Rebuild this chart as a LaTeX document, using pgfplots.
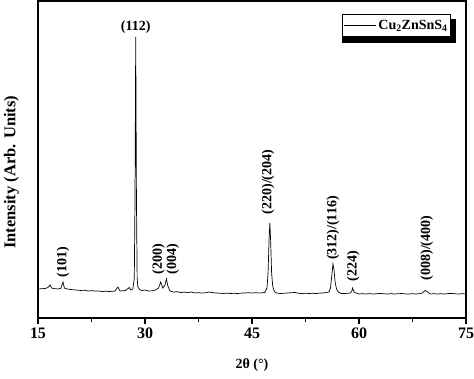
\documentclass[border=0pt]{standalone}
\usepackage{fontspec}
\setmainfont{Liberation Serif}
\usepackage{pgfplots}
\pgfplotsset{compat=1.18}
\begin{document}
\begin{tikzpicture}
\useasboundingbox (-38pt,-60pt) rectangle (436pt,318pt);
\begin{axis}[
  at={(0pt,0pt)}, anchor=south west,
  scale only axis, width=428pt, height=317pt,
  xmin=15, xmax=75, ymin=0, ymax=317,
  xtick={15,30,45,60,75}, minor x tick num=1,
  ytick=\empty,
  tick align=outside, tick pos=bottom,
  major tick length=6pt, minor tick length=3.5pt,
  axis line style={line width=1.5pt},
  every tick/.style={line width=1.2pt, black},
  /pgf/number format/assume math mode=true,
  xticklabel style={font=\fontsize{16}{16}\selectfont\bfseries},
  xlabel={2θ (°)},
  ylabel={Intensity (Arb. Units)},
  xlabel style={font=\fontsize{14}{14}\selectfont\bfseries, at={(axis description cs:0.5,-0.148)}, anchor=center},
  ylabel style={font=\fontsize{16.5}{16.5}\selectfont\bfseries, at={(axis description cs:-0.062,0.46)}, anchor=center},
  legend style={at={(rel axis cs:0.965,0.959)}, anchor=north east,
    draw=black, line width=0.8pt, fill=white,
    nodes={font=\fontsize{14}{14}\selectfont\bfseries}, inner xsep=1pt, inner ysep=3.5pt},
  legend cell align=left,
  legend image code/.code={\draw[line width=0.6pt] (0pt,0pt) -- (32pt,0pt);},
]
\fill[black] ([shift={(-109pt,-29pt)}]rel axis cs:0.965,0.959) rectangle ([shift={(5pt,-5pt)}]rel axis cs:0.965,0.959);
\addplot[black, line width=0.7pt] coordinates {
(15,29) (15.5,29.3) (16.0,29.5) (16.4,30.5) (16.7,33) (16.9,30) (17.3,29.4) (17.8,29) (18.2,29.6) (18.5,36) (18.7,30) (19.0,29.2)
(19.5,28.6) (20,28.2) (20.5,27.9) (21,27.5) (21.5,27.8) (22,27) (22.5,27.3) (23,26.9) (23.5,27.1) (24,26.5) (24.5,26.8) (25,26.5)
(25.8,27) (26.2,31) (26.5,27) (27.0,27.3) (27.3,27.6) (27.8,30.5) (28.0,28) (28.3,29) (28.5,40) (28.6,120) (28.7,281) (28.8,120) (28.9,40)
(29.0,31) (29.3,28) (29.6,27.5) (30,28) (30.5,27) (31.0,27.2) (31.5,28) (31.9,30) (32.2,36) (32.5,30) (32.8,33) (33.0,39) (33.2,32)
(33.5,27) (34,26) (34.5,26.3) (35,25.5) (35.5,25.8) (36,25.5) (36.5,26) (37,25) (37.5,25.3) (38,25) (38.5,25.2) (39,26) (39.5,25.3) (40,25)
(40.5,24.8) (41,24.5) (41.5,24.9) (42,24.5) (42.5,24.7) (43,24.5) (43.5,24.9) (44,25) (44.5,25.3) (45,25) (45.5,25.3) (46,25) (46.8,25.5)
(47.1,30) (47.25,45) (47.4,80) (47.5,95) (47.6,80) (47.75,45) (47.9,32) (48.1,27) (48.4,25) (49,24.5) (49.5,24.8) (50,25) (50.5,25.3) (51,25.5)
(51.5,24.8) (52,24.5) (52.5,24.8) (53,24.5) (53.5,24.7) (54,24.5) (54.5,24.9) (55,25) (55.8,26) (56.0,30) (56.15,40) (56.35,54) (56.5,48)
(56.65,36) (56.85,29) (57.1,26) (57.5,24.5) (58,24.5) (58.5,24.8) (58.8,25) (59.0,27) (59.1,30) (59.3,26) (59.6,25) (60,24)
(60.5,24.3) (61,24) (61.5,24.4) (62,24) (62.5,24.3) (63,24.5) (63.5,24.2) (64,24) (64.5,24.4) (65,24) (65.5,24.3) (66,24.5) (66.5,24.1)
(67,24) (67.5,24.3) (68,24) (68.5,24.4) (68.9,25) (69.1,26.5) (69.3,27.5) (69.5,26.5) (69.8,25) (70,24) (70.5,24.3) (71,24)
(71.5,24.3) (72,24) (72.5,24.4) (73,24.5) (73.5,24.2) (74,24) (74.5,24.3) (75,24)
};
\addlegendentry{Cu\textsubscript{2}ZnSnS\textsubscript{4}}
\begin{scope}[every node/.style={font=\fontsize{14}{14}\selectfont\bfseries, inner sep=0pt}]
\node at (axis cs:28.7,291) {(112)};
\node[rotate=90] at (axis cs:18.5,56) {(101)};
\node[rotate=90] at (axis cs:31.9,59) {(200)};
\node[rotate=90] at (axis cs:33.9,59) {(004)};
\node[rotate=90] at (axis cs:47.25,136) {(220)/(204)};
\node[rotate=90] at (axis cs:56.35,90) {(312)/(116)};
\node[rotate=90] at (axis cs:59.2,52) {(224)};
\node[rotate=90] at (axis cs:69.5,70) {(008)/(400)};
\end{scope}
\end{axis}
\end{tikzpicture}
\end{document}
